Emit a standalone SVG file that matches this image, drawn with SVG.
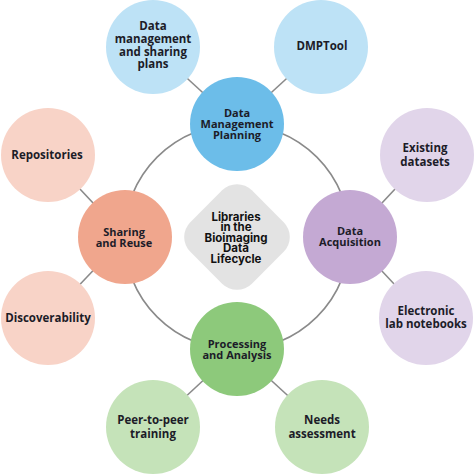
<svg xmlns="http://www.w3.org/2000/svg" width="474" height="475" viewBox="0 0 474 475">
<style>
.c{stroke:none}
.t{font-family:"Open Sans","Noto Sans",sans-serif;font-weight:700;fill:#1c1c28;text-anchor:middle}
.s{font-size:11.5px}
.m{font-size:11px}
.k{font-family:Inter,"Open Sans",sans-serif;font-weight:700;font-size:11.5px;fill:#111;text-anchor:middle}
.ln{stroke:#8a8a8a;stroke-width:1.6;fill:none}
</style>
<rect width="474" height="475" fill="#fff"/>
<g id="connectors">
<circle class="ln" cx="237" cy="237" r="113"/>
<line class="ln" x1="153" y1="47" x2="237" y2="124"/>
<line class="ln" x1="321" y1="47" x2="237" y2="124"/>
<line class="ln" x1="48" y1="155" x2="125" y2="237"/>
<line class="ln" x1="48" y1="318" x2="125" y2="237"/>
<line class="ln" x1="427" y1="155" x2="350" y2="237"/>
<line class="ln" x1="426" y1="318" x2="350" y2="237"/>
<line class="ln" x1="153" y1="427" x2="237" y2="349"/>
<line class="ln" x1="322" y1="427" x2="237" y2="349"/>
</g>
<g id="center">
<rect x="193.5" y="193.5" width="87" height="87" rx="21" fill="#e3e3e3" transform="rotate(45 237 237)"/>
<text class="k"><tspan x="236" y="220.5">Libraries</tspan><tspan x="236" y="231">in the</tspan><tspan x="236" y="241.5">Bioimaging</tspan><tspan x="236" y="252">Data</tspan><tspan x="236" y="262.5">Lifecycle</tspan></text>
</g>
<g id="dmp">
<circle class="c" cx="237" cy="124" r="47" fill="#6cbde9"/>
<text class="t m"><tspan x="237" y="117">Data</tspan><tspan x="237" y="128">Management</tspan><tspan x="237" y="139">Planning</tspan></text>
</g>
<g id="acq">
<circle class="c" cx="350" cy="237" r="47" fill="#c4a9d3"/>
<text class="t m"><tspan x="350" y="235">Data</tspan><tspan x="350" y="246">Acquisition</tspan></text>
</g>
<g id="share">
<circle class="c" cx="125" cy="237" r="47" fill="#f0a68d"/>
<text class="t m"><tspan x="124" y="236">Sharing</tspan><tspan x="124" y="247">and Reuse</tspan></text>
</g>
<g id="proc">
<circle class="c" cx="237" cy="349" r="47" fill="#8dc97b"/>
<text class="t m"><tspan x="237" y="348">Processing</tspan><tspan x="237" y="359">and Analysis</tspan></text>
</g>
<g id="plans">
<circle class="c" cx="153" cy="47" r="47" fill="#bde2f6"/>
<text class="t s"><tspan x="153" y="30">Data</tspan><tspan x="153" y="43">management</tspan><tspan x="153" y="56">and sharing</tspan><tspan x="153" y="68">plans</tspan></text>
</g>
<g id="dmptool">
<circle class="c" cx="321" cy="47" r="47" fill="#bde2f6"/>
<text class="t s" x="322" y="50">DMPTool</text>
</g>
<g id="repos">
<circle class="c" cx="48" cy="155" r="47" fill="#f8d3c7"/>
<text class="t s" x="47" y="159">Repositories</text>
</g>
<g id="disc">
<circle class="c" cx="48" cy="318" r="47" fill="#f8d3c7"/>
<text class="t s" x="48" y="322">Discoverability</text>
</g>
<g id="existing">
<circle class="c" cx="427" cy="155" r="47" fill="#e1d5ea"/>
<text class="t s"><tspan x="425" y="152">Existing</tspan><tspan x="425" y="166">datasets</tspan></text>
</g>
<g id="eln">
<circle class="c" cx="426" cy="318" r="47" fill="#e1d5ea"/>
<text class="t s"><tspan x="426" y="315">Electronic</tspan><tspan x="426" y="328">lab notebooks</tspan></text>
</g>
<g id="peer">
<circle class="c" cx="153" cy="427" r="47" fill="#c5e3b9"/>
<text class="t s"><tspan x="153" y="424">Peer-to-peer</tspan><tspan x="153" y="438">training</tspan></text>
</g>
<g id="needs">
<circle class="c" cx="322" cy="427" r="47" fill="#c5e3b9"/>
<text class="t s"><tspan x="322" y="424">Needs</tspan><tspan x="322" y="438">assessment</tspan></text>
</g>
</svg>
